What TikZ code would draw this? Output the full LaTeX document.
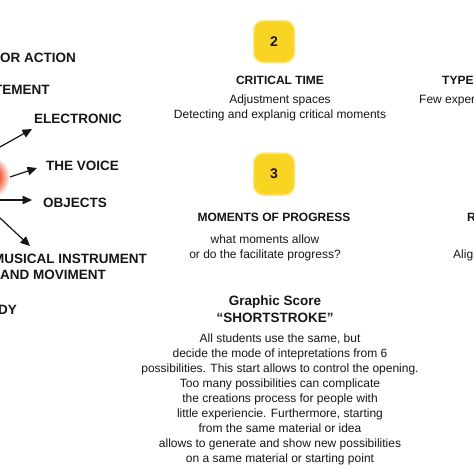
\documentclass[tikz,border=0pt]{standalone}
\usepackage{fontspec}
\setmainfont{Liberation Sans}
\usetikzlibrary{arrows.meta}
\definecolor{numyellow}{HTML}{F9D423}
\definecolor{glow}{HTML}{EF5A36}
\definecolor{ink}{HTML}{161616}
\pgfdeclareradialshading{blob}{\pgfpoint{0bp}{0bp}}{color(0bp)=(glow); color(13bp)=(glow); color(25bp)=(white); color(50bp)=(white)}
\begin{document}
\begin{tikzpicture}[
    x=1pt, y=-1pt,
    every node/.style={inner sep=0pt, text=ink},
    label/.style={font=\fontsize{13.5}{16.5}\selectfont\bfseries},
    head/.style={font=\fontsize{12}{15}\selectfont\bfseries},
    title/.style={font=\fontsize{13.5}{17}\selectfont\bfseries, align=center},
    body/.style={font=\fontsize{12}{15}\selectfont, align=center},
    numbox/.style={rectangle, rounded corners=10pt, fill=numyellow, draw=numyellow!55, line width=1.5pt, minimum width=41pt, minimum height=42pt, font=\fontsize{14}{14}\selectfont\bfseries},
    arrow/.style={-{Triangle[length=9.5pt,width=8.5pt]}, line width=1.2pt, draw=ink}
]
    \useasboundingbox (0,0) rectangle (474,474);
    \fill[white] (0,0) rectangle (474,474);

    % left column
    \shade[shading=blob] (-12,177) circle[radius=22pt];
    \node[label, anchor=base west] (action) at (0,62) {OR ACTION};
    \node[label, anchor=base west] (statement) at (-6,94) {TEMENT};
    \node[label, anchor=base west] (electronic) at (34,123.5) {ELECTRONIC};
    \node[label, anchor=base west] (voice) at (46,170.5) {THE VOICE};
    \node[label, anchor=base west] (objects) at (43,207) {OBJECTS};
    \node[label, anchor=base east] (instrument) at (147,263) {MUSICAL INSTRUMENT};
    \node[label, anchor=base west] (moviment) at (0,279.5) {AND MOVIMENT};
    \node[label, anchor=base east] (body) at (17,314) {DY};

    \coordinate (elecfrom) at (0,147);
    \coordinate (electo) at (32,129);
    \coordinate (voicefrom) at (10,177);
    \coordinate (voiceto) at (37,168);
    \coordinate (objfrom) at (0,200);
    \coordinate (objto) at (32,200);
    \coordinate (instrfrom) at (0,218);
    \coordinate (instrto) at (30,246);
    \draw[arrow] (elecfrom) -- (electo);
    \draw[arrow] (voicefrom) -- (voiceto);
    \draw[arrow] (objfrom) -- (objto);
    \draw[arrow] (instrfrom) -- (instrto);

    % middle column
    \node[numbox] (two) at (274,41.5) {2};
    \node[head, anchor=base] (critical) at (280,84) {CRITICAL TIME};
    \node[body, anchor=base] (adjust) at (280,103) {Adjustment spaces};
    \node[body, anchor=base] (detect) at (280,118) {Detecting and explanig critical moments};

    \node[numbox] (three) at (274,174) {3};
    \node[head, anchor=base] (progress) at (274,221) {MOMENTS OF PROGRESS};
    \node[body, anchor=base] (allow) at (265,258) {what moments allow\\or do the facilitate progress?};

    \node[title, anchor=base] (score) at (275,322) {Graphic Score\\“SHORTSTROKE”};
    \node[body, anchor=base] (notes) at (280,462) {All students use the same, but\\
        decide the mode of intepretations from 6\\
        possibilities. This start allows to control the opening.\\
        Too many possibilities can complicate\\
        the creations process for people with\\
        little experiencie. Furthermore, starting\\
        from the same material or idea\\
        allows to generate and show new possibilities\\
        on a same material or starting point};

    % right column
    \node[head, anchor=base west] (type) at (442,84) {TYPE};
    \node[body, anchor=base west] (few) at (419,103) {Few exper};
    \node[head, anchor=base west] (rcol) at (467,221) {R};
    \node[body, anchor=base west] (align) at (453,258) {Alig};
\end{tikzpicture}
\end{document}
